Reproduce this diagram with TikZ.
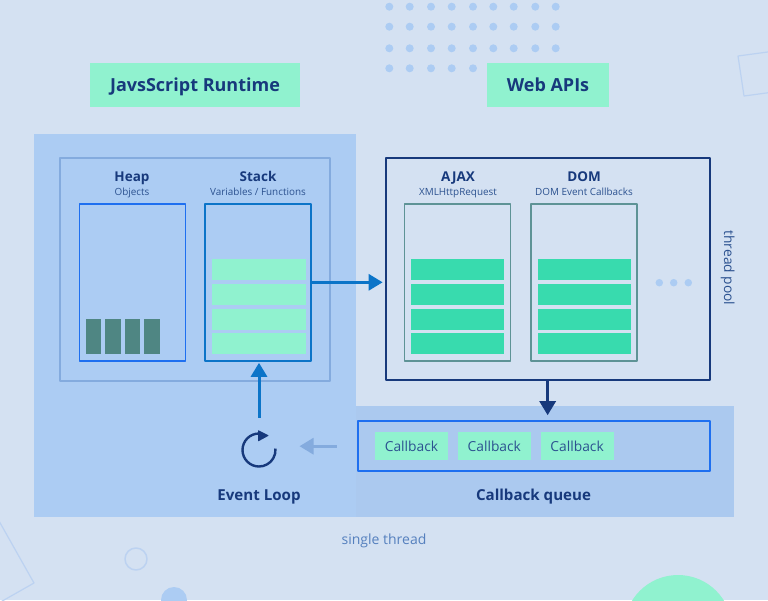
\documentclass[tikz,border=0pt]{standalone}
\usepackage{fontspec}
\setmainfont{Open Sans}
\usetikzlibrary{arrows.meta}
\definecolor{pagebg}{HTML}{D4E1F2}
\definecolor{panelblue}{HTML}{ACCCF3}
\definecolor{queueblue}{HTML}{ABC9EF}
\definecolor{softblue}{HTML}{84ABDE}
\definecolor{navy}{HTML}{17397C}
\definecolor{subnavy}{HTML}{2C5290}
\definecolor{brightblue}{HTML}{1E6FF0}
\definecolor{stackblue}{HTML}{0B74C8}
\definecolor{mint}{HTML}{90F2CF}
\definecolor{seagreen}{HTML}{38DBAE}
\definecolor{darkteal}{HTML}{4F8683}
\definecolor{greyteal}{HTML}{5E9396}
\definecolor{ghost}{HTML}{BCD2F1}
\definecolor{threadtext}{HTML}{5580BE}
\tikzset{
  box/.style={rectangle,inner sep=0pt,outer sep=0pt},
  panel/.style={box,fill=#1},
  title/.style={box,fill=mint,minimum height=44pt,text height=13.4pt,text depth=0pt,text=navy,font=\fontsize{18}{20}\selectfont\bfseries},
  head/.style={box,anchor=base,text=navy,font=\fontsize{13.5}{15}\selectfont\bfseries},
  bighead/.style={box,anchor=base,text=navy,font=\fontsize{15.1}{17}\selectfont\bfseries},
  subhead/.style={box,anchor=base,text=subnavy,font=\fontsize{9.9}{11}\selectfont},
  column/.style={box,draw=#1,minimum width=106pt,minimum height=157pt},
  item/.style={box,fill=#1,minimum width=93.5pt,minimum height=21pt},
  bar/.style={box,fill=darkteal,minimum width=15.5pt,minimum height=35pt},
  callback/.style={box,fill=mint,minimum width=73pt,minimum height=28pt,text=subnavy,font=\fontsize{13.8}{15}\selectfont},
  dot/.style={circle,inner sep=0pt,outer sep=0pt,fill=panelblue,minimum size=#1},
}
\begin{document}
\begin{tikzpicture}[x=1pt,y=-1pt,>={Triangle[length=14pt,width=16pt]},line join=bevel]
 \useasboundingbox (0,0) rectangle (768,600);
 \fill [pagebg] (0,0) rectangle (768,600);

 % background shapes
 \begin{scope}
  \clip (0,0) rectangle (768,600);
  \draw [ghost,line width=1.2pt] (738,56) -- (790,49) -- (796,89) -- (744,96) -- cycle;
  \draw [ghost,line width=1.2pt] (-10,505) -- (34,583) -- (-10,608);
  \draw [ghost,line width=1.5pt] (136,559) circle [radius=11pt];
  \fill [panelblue] (174,600) circle [radius=13pt];
  \fill [mint] (678,629) circle [radius=54pt];
 \end{scope}
 \foreach \posx in {389.3,409.7,431,451.7,473,493.3,513.7,535.3,555.7} {
  \node [dot=8pt] at (\posx,6.7) {};
  \node [dot=8pt] at (\posx,26.7) {};
  \node [dot=8pt] at (\posx,48.3) {};
 }
 \foreach \posx in {389.3,409.7,431,451.7,473} {
  \node [dot=8pt] at (\posx,68.3) {};
 }

 \node (title_js) at (195,85) [title,minimum width=210pt] {JavsScript Runtime};
 \node (title_web) at (548,85) [title,minimum width=122pt] {Web APIs};

 \node (panel_js) at (194.85,325.35) [panel=panelblue,minimum width=321.7pt,minimum height=382.7pt] {};
 \node (panel_queue) at (544.7,461.2) [panel=queueblue,minimum width=378pt,minimum height=111pt] {};

 % runtime side
 \node (node_runtime) at (195.25,269.35) [box,draw=softblue,line width=1.8pt,minimum width=270pt,minimum height=222.5pt] {};
 \node (node_heap) at (132.35,282.3) [column=brightblue,line width=1.7pt] {};
 \node (node_stack) at (258.25,282.3) [column=stackblue,line width=2.2pt] {};
 \node (label_heap) at (132,181.5) [head] {Heap};
 \node (sub_heap) at (132,195.7) [subhead] {Objects};
 \node (label_stack) at (258,181.5) [head] {Stack};
 \node (sub_stack) at (258,195.7) [subhead] {Variables / Functions};

 \node (bar_0) at (93.3,336.5) [bar] {};
 \node (bar_1) at (112.8,336.5) [bar] {};
 \node (bar_2) at (132.3,336.5) [bar] {};
 \node (bar_3) at (151.8,336.5) [bar] {};

 \node (stack_0) at (258.85,269.5) [item=mint] {};
 \node (stack_1) at (258.85,294.2) [item=mint] {};
 \node (stack_2) at (258.85,319) [item=mint] {};
 \node (stack_3) at (258.85,343.7) [item=mint] {};

 % web side
 \node (node_web) at (547.65,269.35) [box,draw=navy,line width=2pt,minimum width=324pt,minimum height=222pt] {};
 \node (node_ajax) at (457.5,282.3) [column=greyteal,line width=1.8pt] {};
 \node (node_dom) at (583.85,282.3) [column=greyteal,line width=1.8pt] {};
 \node (label_ajax) at (458,181.5) [head] {AJAX};
 \node (sub_ajax) at (458,195.7) [subhead] {XMLHttpRequest};
 \node (label_dom) at (584,181.5) [head] {DOM};
 \node (sub_dom) at (584,195.7) [subhead] {DOM Event Callbacks};

 \node (ajax_0) at (457.7,269.5) [item=seagreen] {};
 \node (ajax_1) at (457.7,294.2) [item=seagreen] {};
 \node (ajax_2) at (457.7,319) [item=seagreen] {};
 \node (ajax_3) at (457.7,343.7) [item=seagreen] {};
 \node (dom_0) at (584.35,269.5) [item=seagreen] {};
 \node (dom_1) at (584.35,294.2) [item=seagreen] {};
 \node (dom_2) at (584.35,319) [item=seagreen] {};
 \node (dom_3) at (584.35,343.7) [item=seagreen] {};

 \node (dot_0) at (659.3,282.7) [dot=7.5pt] {};
 \node (dot_1) at (673.7,282.7) [dot=7.5pt] {};
 \node (dot_2) at (688.3,282.7) [dot=7.5pt] {};
 \node (label_pool) at (727.7,268) [box,rotate=-90,text=subnavy,font=\fontsize{13.8}{15}\selectfont] {thread pool};

 % queue and loop
 \node (node_queue) at (533.5,446.2) [box,draw=brightblue,line width=2pt,minimum width=352pt,minimum height=50pt] {};
 \node (callback_0) at (411.5,446.4) [callback] {Callback};
 \node (callback_1) at (494.3,446.4) [callback] {Callback};
 \node (callback_2) at (577.1,446.4) [callback] {Callback};
 \node (label_queue) at (533.5,500) [bighead] {Callback queue};

 \node (node_loop) at (259,450) [circle,inner sep=0pt,outer sep=0pt,minimum size=33pt] {};
 \node (label_loop) at (259,500) [bighead] {Event Loop};
 \draw [navy,line width=2.4pt] (node_loop.north) arc [start angle=90,end angle=365,radius=16.5pt];
 \fill [navy,rounded corners=0.6pt] (node_loop.north) ++(-1,-3.5) -- ++(11,5.5) -- ++(-11,6) -- cycle;

 \node (label_single) at (384,544) [box,anchor=base,text=threadtext,font=\fontsize{14}{16}\selectfont] {single thread};

 \draw [stackblue,line width=3pt,->,shorten >=3pt] (node_stack.east) -- (node_web.west |- node_stack.east);
 \draw [stackblue,line width=3pt,->,shorten <=16pt,shorten >=2pt] (node_loop.north) -- (node_stack.south -| node_loop.north);
 \draw [navy,line width=3pt,->,shorten >=6pt] (node_web.south) -- (node_web.south |- node_queue.north);
 \draw [softblue,line width=3pt,->,shorten <=21pt,shorten >=24pt] (node_queue.west) -- (node_loop.east |- node_queue.west);
\end{tikzpicture}
\end{document}
